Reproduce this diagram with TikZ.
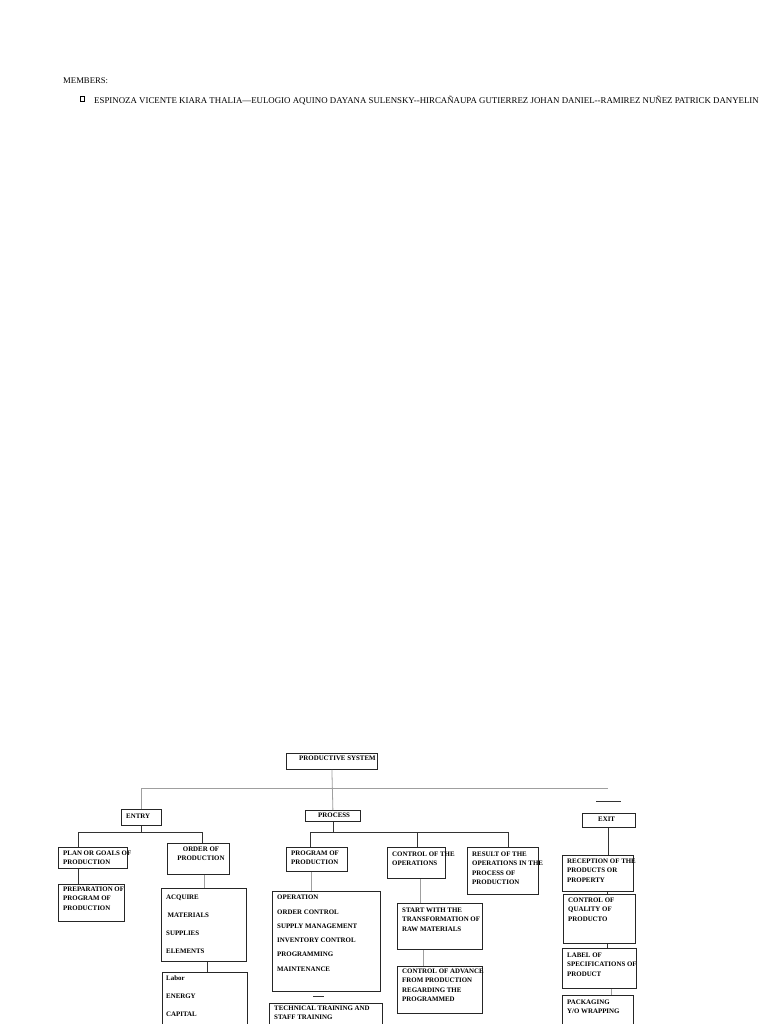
\documentclass[tikz,border=0pt]{standalone}
\usepackage{fontspec}
\setmainfont{Liberation Serif}
\tikzset{
  box/.style={draw=black!85, line width=0.8pt, anchor=north west, inner sep=0pt},
  txt/.style={anchor=north west, inner sep=0pt, align=left, font=\fontsize{6.9}{9.2}\selectfont\bfseries},
  link/.style={draw=black!80, line width=0.7pt},
  faint/.style={draw=gray!75, line width=0.8pt}
}
\begin{document}
\begin{tikzpicture}[x=1pt,y=-1pt]
\useasboundingbox[fill=white] (0,0) rectangle (768,1024);

% Members at the top of the page
\node[anchor=north west, inner sep=0pt, font=\fontsize{8.7}{10}\selectfont] (members) at (63,77.5) {MEMBERS:};
\node[draw, line width=0.4pt, minimum width=3.5pt, minimum height=5pt, inner sep=0pt] (bullet) at (82,98.5) {};
\node[anchor=north west, inner sep=0pt, font=\fontsize{8.85}{10}\selectfont] (names) at (94,96) {ESPINOZA VICENTE KIARA THALIA---EULOGIO AQUINO DAYANA SULENSKY-{}-HIRCAÑAUPA GUTIERREZ JOHAN DANIEL-{}-RAMIREZ NUÑEZ PATRICK DANYELIN};

% Root box
\node[box, minimum width=91pt, minimum height=16pt] (prod) at (286,753) {};
\node[txt] (prod-t) at (299,756) {PRODUCTIVE SYSTEM};

% Three main stages
\node[box, minimum width=40pt, minimum height=16pt] (entry) at (121,809) {};
\node[txt] (entry-t) at (126,814) {ENTRY};
\node[box, minimum width=55pt, minimum height=11pt] (process) at (305,810) {};
\node[txt] (process-t) at (318,813) {PROCESS};
\node[box, minimum width=53pt, minimum height=14pt] (exit) at (582,813) {};
\node[txt] (exit-t) at (598,817) {EXIT};

% Top connectors
\draw[faint] (prod.south) -- (process.north);
\draw[faint] (entry.north) |- (608,788);
\draw[link] (596,801) -- (621,801);

% Entry branch
\node[box, minimum width=69pt, minimum height=21pt] (plan) at (58,847) {};
\node[txt] (plan-t) at (63,851) {PLAN OR GOALS OF\\PRODUCTION};
\node[box, minimum width=62pt, minimum height=31pt] (order) at (167,843) {};
\node[txt, anchor=north, align=center] (order-t) at (201,847) {ORDER OF\\PRODUCTION};
\node[box, minimum width=66pt, minimum height=37pt] (prep) at (58,884) {};
\node[txt] (prep-t) at (63,887) {PREPARATION OF\\PROGRAM OF\\PRODUCTION};
\node[box, minimum width=85pt, minimum height=73pt] (acquire) at (161,888) {};
\node[txt, font=\fontsize{6.9}{18.2}\selectfont\bfseries] (acquire-t) at (166,894.5) {ACQUIRE\\\hspace{1.5pt}MATERIALS\\SUPPLIES\\ELEMENTS};
\node[box, minimum width=85pt, minimum height=60pt] (labor) at (162,972) {};
\node[txt, font=\fontsize{6.9}{18.2}\selectfont\bfseries] (labor-t) at (166,975.5) {Labor\\ENERGY\\CAPITAL};

\draw[link] (entry.south) -- (entry.south |- 0,832);
\draw[link] (78,0 |- plan.north) -- (78,832) -- (202,832) -- (202,0 |- order.north);
\draw[link] (78,0 |- plan.south) -- (78,0 |- prep.north);
\draw[faint] (204,0 |- order.south) -- (204,0 |- acquire.north);
\draw[link] (207,0 |- acquire.south) -- (207,0 |- labor.north);

% Process branch
\node[box, minimum width=61pt, minimum height=24pt] (program) at (286,847) {};
\node[txt] (program-t) at (291,851) {PROGRAM OF\\PRODUCTION};
\node[box, minimum width=58pt, minimum height=31pt] (control) at (387,847) {};
\node[txt] (control-t) at (392,852) {CONTROL OF THE\\OPERATIONS};
\node[box, minimum width=71pt, minimum height=47pt] (result) at (467,847) {};
\node[txt] (result-t) at (472,852) {RESULT OF THE\\OPERATIONS IN THE\\PROCESS OF\\PRODUCTION};
\node[box, minimum width=108pt, minimum height=100pt] (oper) at (272,891) {};
\node[txt, font=\fontsize{6.9}{14.3}\selectfont\bfseries] (oper-t) at (277,895) {OPERATION\\ORDER CONTROL\\SUPPLY MANAGEMENT\\INVENTORY CONTROL\\PROGRAMMING\\MAINTENANCE};
\node[box, minimum width=113pt, minimum height=40pt] (training) at (269,1003) {};
\node[txt] (training-t) at (274,1006) {TECHNICAL TRAINING AND\\STAFF TRAINING};
\node[box, minimum width=85pt, minimum height=46pt] (start) at (397,903) {};
\node[txt] (start-t) at (402,908) {START WITH THE\\TRANSFORMATION OF\\RAW MATERIALS};
\node[box, minimum width=85pt, minimum height=47pt] (advance) at (397,966) {};
\node[txt] (advance-t) at (402,969) {CONTROL OF ADVANCE\\FROM PRODUCTION\\REGARDING THE\\PROGRAMMED};

\draw[link] (process.south) -- (process.south |- 0,832);
\draw[link] (310,0 |- program.north) -- (310,832) -- (508,832) -- (508,0 |- result.north);
\draw[link] (417,832) -- (417,0 |- control.north);
\draw[faint] (311,0 |- program.south) -- (311,0 |- oper.north);
\draw[link] (313,996) -- (324,996);
\draw[faint] (420,0 |- control.south) -- (420,0 |- start.north);
\draw[faint] (423,0 |- start.south) -- (423,0 |- advance.north);

% Exit branch
\node[box, minimum width=71pt, minimum height=36pt] (reception) at (562,855) {};
\node[txt] (reception-t) at (567,859) {RECEPTION OF THE\\PRODUCTS OR\\PROPERTY};
\node[box, minimum width=72pt, minimum height=49pt] (quality) at (563,894) {};
\node[txt] (quality-t) at (568,898) {CONTROL OF\\QUALITY OF\\PRODUCTO};
\node[box, minimum width=74pt, minimum height=40pt] (label) at (562,948) {};
\node[txt] (label-t) at (567,953) {LABEL OF\\SPECIFICATIONS OF\\PRODUCT};
\node[box, minimum width=71pt, minimum height=40pt] (packing) at (562,995) {};
\node[txt] (packing-t) at (567,1000) {PACKAGING\\Y/O WRAPPING};

\draw[link] (608,0 |- exit.south) -- (608,0 |- reception.north);
\draw[link] (607,0 |- reception.south) -- (607,0 |- quality.north);
\draw[link] (607,0 |- quality.south) -- (607,0 |- label.north);
\draw[faint] (611,0 |- label.south) -- (611,0 |- packing.north);
\end{tikzpicture}
\end{document}
